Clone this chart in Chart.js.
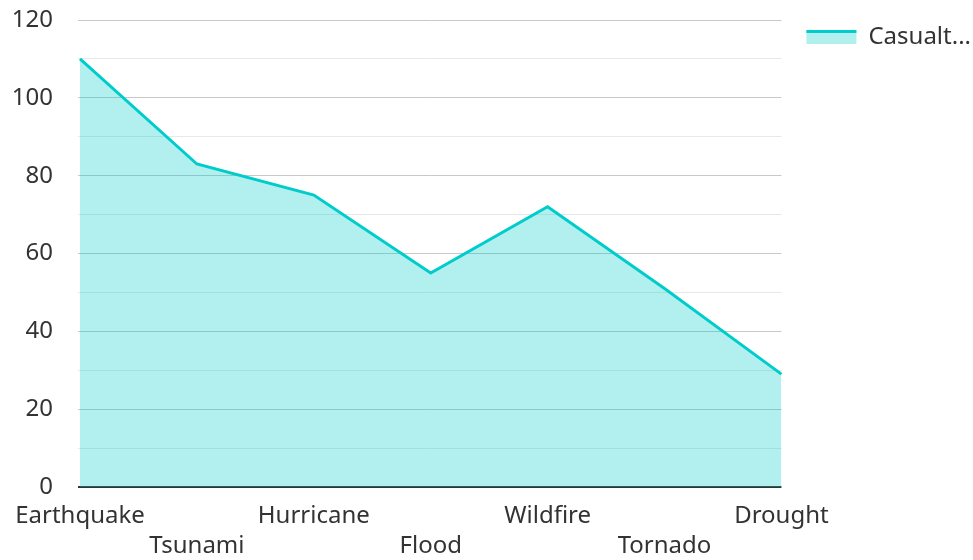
<!DOCTYPE html>
<html>
<head>
<meta charset="utf-8">
<script src="https://cdn.jsdelivr.net/npm/chart.js@4.4.1/dist/chart.umd.min.js"></script>
<style>
  html, body { margin: 0; padding: 0; background: #fff; }
  #wrap { width: 973px; height: 560px; }
</style>
</head>
<body>
<div id="wrap"><canvas id="c" width="973" height="560"></canvas></div>
<script>
// Disaster categories and casualties per category
const categories = ['Earthquake', 'Tsunami', 'Hurricane', 'Flood', 'Wildfire', 'Tornado', 'Drought'];
const casualties = [110, 83, 75, 55, 72, 51, 29];
const seriesName = 'Casualties';
const yTicks = [0, 20, 40, 60, 80, 100, 120];

const LINE = 'rgb(0, 204, 204)';
const FILL = 'rgba(0, 204, 204, 0.3)';
const TEXT = '#333333';
const FONT = "'Noto Sans', 'Open Sans', sans-serif";

// Draws the thick series stroke across the top of the legend swatch
const legendLinePlugin = {
  id: 'legendLine',
  afterDraw(chart) {
    const legend = chart.legend;
    if (!legend || !legend.legendHitBoxes || !legend.legendHitBoxes.length) return;
    const opts = legend.options.labels;
    const hb = legend.legendHitBoxes[0];
    const boxH = opts.boxHeight;
    const boxTop = hb.top + (hb.height - boxH) / 2;
    const ctx = chart.ctx;
    ctx.save();
    ctx.strokeStyle = LINE;
    ctx.lineWidth = 3;
    ctx.beginPath();
    ctx.moveTo(hb.left, boxTop + 1.5);
    ctx.lineTo(hb.left + opts.boxWidth, boxTop + 1.5);
    ctx.stroke();
    ctx.restore();
  }
};

new Chart(document.getElementById('c'), {
  type: 'line',
  data: {
    labels: categories,
    datasets: [{
      label: seriesName,
      data: casualties,
      borderColor: LINE,
      backgroundColor: FILL,
      borderWidth: 3,
      fill: 'origin',
      tension: 0,
      pointRadius: 0,
      pointHoverRadius: 0
    }]
  },
  options: {
    responsive: false,
    animation: false,
    devicePixelRatio: 1,
    layout: { padding: { top: 0, right: -8, bottom: 0, left: 0 } },
    plugins: {
      tooltip: { enabled: false },
      legend: {
        position: 'right',
        align: 'start',
        labels: {
          color: TEXT,
          font: { family: FONT, size: 24 },
          boxWidth: 50,
          boxHeight: 14,
          padding: 25,
          generateLabels(chart) {
            return chart.data.datasets.map((ds, i) => ({
              text: ds.label.length > 7 ? ds.label.slice(0, 7) + '...' : ds.label,
              fillStyle: ds.backgroundColor,
              strokeStyle: 'rgba(0,0,0,0)',
              fontColor: TEXT,
              lineWidth: 0,
              datasetIndex: i,
              hidden: false
            }));
          }
        }
      }
    },
    scales: {
      x: {
        grid: { display: false, drawTicks: false },
        border: { display: false },
        afterFit(scale) { scale.height = 73; },
        ticks: {
          color: TEXT,
          font: { family: FONT, size: 24, lineHeight: 1.25 },
          maxRotation: 0,
          autoSkip: false,
          padding: 14,
          callback(value, index) {
            const name = categories[index];
            return index % 2 ? ['', name] : name;
          }
        }
      },
      y: {
        min: 0,
        max: 120,
        border: { display: false },
        afterFit(scale) {
          scale.width = 80;
          scale.paddingTop = 20;
          scale.paddingBottom = 15;
        },
        grid: {
          drawTicks: true,
          tickLength: 2,
          lineWidth: (c) => (c.tick && c.tick.value === 0 ? 2 : 1),
          color: (c) => {
            const v = c.tick ? c.tick.value : 0;
            if (v === 0) return '#333333';
            return yTicks.includes(v) ? '#c8c8c8' : '#e8e8e8';
          }
        },
        ticks: {
          stepSize: 10,
          color: TEXT,
          font: { family: FONT, size: 24, lineHeight: 1.25 },
          padding: 25,
          callback(value) {
            return yTicks.includes(value) ? String(value) : '';
          }
        }
      }
    }
  },
  plugins: [legendLinePlugin]
});
</script>
</body>
</html>
